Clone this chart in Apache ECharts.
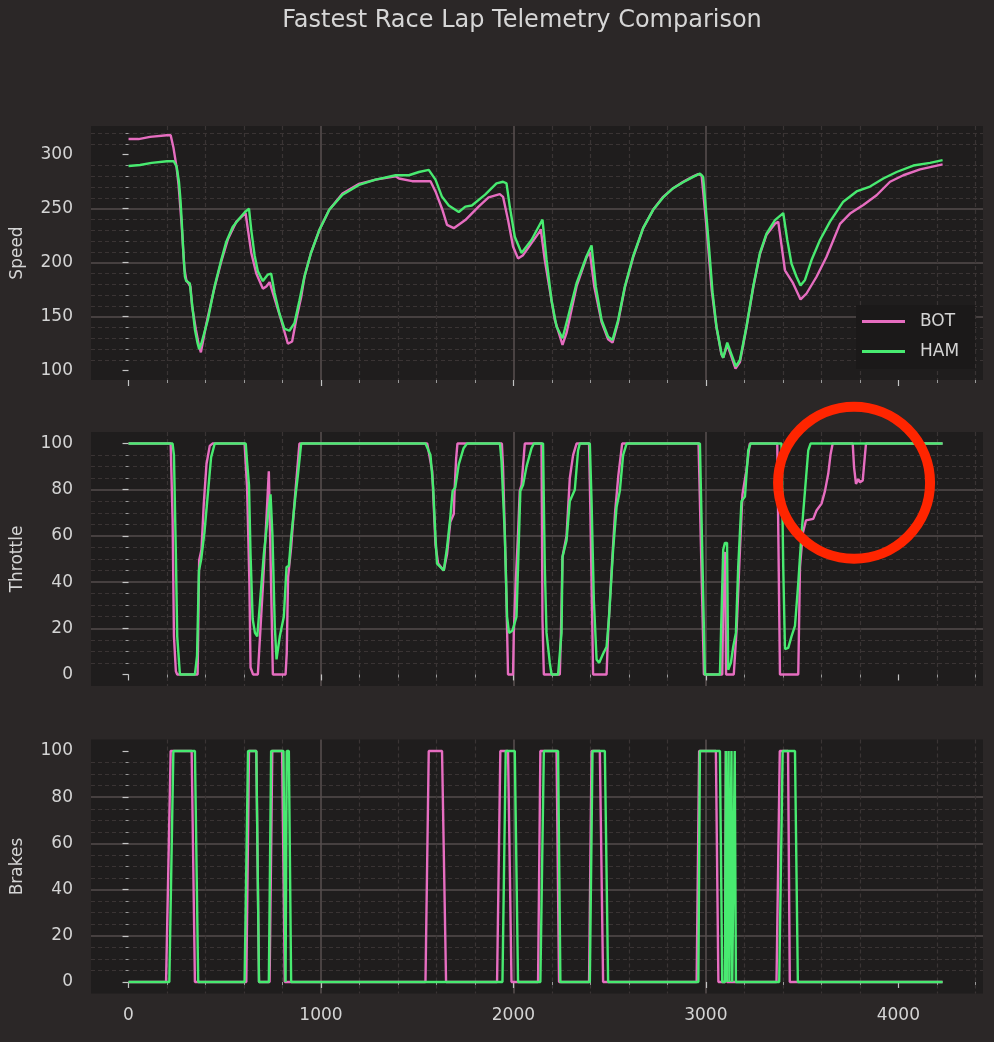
<!DOCTYPE html>
<html><head><meta charset="utf-8">
<script src="https://cdn.jsdelivr.net/npm/echarts@6/dist/echarts.min.js"></script>
<style>html,body{margin:0;padding:0;background:#2b2727;}#c{width:994px;height:1042px;}</style>
</head><body><div id="c"></div>
<script>
const titleText = 'Fastest Race Lap Telemetry Comparison';
const drivers = ['BOT', 'HAM'];
const panelNames = ['Speed', 'Throttle', 'Brakes'];
const xTickValues = [0, 1000, 2000, 3000, 4000];
const speedTickValues = [100, 150, 200, 250, 300];
const pctTickValues = [0, 20, 40, 60, 80, 100];
const circleCenter = [3770, 83];

const botSpeed = [[0,314.5],[52,314.5],[112,316.5],[198,318],[219,318],[233,307],[250,288],[260,272],[276,235],[290,195],[300,184],[322,178],[330,160],[350,138],[365,124],[376,117],[405,144],[440,172],[480,200],[517,222],[560,238],[608,246],[638,209],[664,190],[698,176],[716,178],[733,182],[750,172],[793,147],[828,125],[850,127],[871,147],[897,168],[914,187],[948,209],[991,230],[1043,249],[1112,264],[1198,273],[1284,277],[1388,280],[1405,278],[1474,275.5],[1569,275.5],[1595,266],[1629,250],[1655,235],[1690,232],[1750,239.5],[1819,252],[1871,260.5],[1929,263.5],[1946,261],[1972,239.5],[1998,215],[2024,204],[2050,207],[2137,229],[2142,231],[2163,202.5],[2215,147],[2255,124],[2276,135],[2328,178],[2380,205],[2397,210],[2420,178],[2458,145],[2492,129],[2515,126],[2544,145],[2579,177],[2622,205],[2674,232],[2726,249],[2778,261],[2830,269],[2882,275],[2934,280],[2960,282],[2978,281],[3005,230],[3030,175],[3055,140],[3081,115],[3090,112],[3111,124],[3125,117],[3154,102],[3177,108],[3211,140],[3246,177],[3281,208],[3315,226],[3359,236],[3376,238],[3411,193],[3453,181],[3492,166],[3523,171.5],[3575,187],[3627,205.5],[3697,236],[3749,245.5],[3818,253.5],[3887,262.5],[3957,275],[4026,281],[4113,286.5],[4230,291]];

const hamSpeed = [[0,289.5],[60,290.5],[120,292.5],[200,294],[235,294],[250,289],[262,275],[270,258],[276,240],[285,209],[293,187],[300,183],[318,181],[325,170],[332,159],[345,138],[358,126],[367,120],[378,125],[412,147],[447,178],[481,202],[507,219],[541,233],[576,241],[605,247],[626,250],[638,230],[655,207],[672,192],[698,183],[715,187],[724,189],[741,190],[759,172],[784,153],[810,139],[836,137],[862,144],[888,165],[914,187],[948,209],[991,230],[1043,249],[1112,263],[1198,272],[1284,277],[1388,281],[1457,281],[1509,284],[1560,286],[1595,277],[1629,261],[1664,253],[1716,247],[1750,252],[1784,253],[1853,263],[1912,273.5],[1946,275],[1964,273.5],[1981,252],[2007,224],[2042,209],[2094,221],[2151,240],[2172,203],[2198,165],[2224,141],[2255,130],[2284,150],[2328,181],[2380,206],[2406,216],[2428,178],[2458,147],[2492,131.5],[2515,128.5],[2544,147],[2579,178],[2622,206],[2674,232],[2726,249],[2778,260.5],[2830,269],[2882,274.5],[2934,279.5],[2969,282.5],[2986,279.5],[3012,224],[3035,172],[3055,141],[3081,116],[3090,112],[3111,126],[3125,119],[3156,104],[3177,110],[3211,141],[3246,178],[3281,209],[3315,227],[3359,239.5],[3402,246],[3423,221],[3445,199],[3471,187],[3492,179],[3515,184],[3549,202.5],[3593,221],[3645,238],[3714,256.5],[3783,266],[3853,270.5],[3922,278],[3991,284],[4078,290],[4165,292.5],[4230,295]];

const botThrottle = [[0,100],[219,100],[229,66.7],[236,16.5],[246,1.4],[253,0],[359,0],[367,49.5],[379,54],[391,73.9],[405,91],[422,99],[436,100],[603,100],[616,81],[628,40],[634,3],[647,0],[672,0],[698,38],[716,66.7],[729,88],[735,88],[750,0],[816,0],[822,9],[829,42],[845,55],[862,74],[888,100],[1552,100],[1578,88],[1595,56],[1609,48],[1638,45],[1655,52],[1672,66],[1690,69.5],[1695,81],[1702,93],[1709,100],[1940,100],[1946,89.7],[1960,46.5],[1972,0],[1998,0],[2002,18],[2012,40],[2024,61],[2033,79.5],[2042,82],[2059,100],[2146,100],[2151,23.7],[2158,0],[2241,0],[2247,18],[2255,51],[2276,60],[2293,85],[2310,95],[2328,100],[2393,100],[2400,70],[2414,0],[2484,0],[2492,18],[2510,45],[2528,70],[2545,86],[2565,100],[2962,100],[2990,0],[3085,0],[3093,50],[3100,53],[3105,0],[3145,0],[3160,20],[3175,50],[3190,78],[3210,88],[3228,100],[3371,100],[3385,0],[3480,0],[3489,46.5],[3503,61],[3520,66.7],[3558,67.4],[3575,71],[3601,74],[3619,79.5],[3636,87],[3648,95.4],[3659,100],[3763,100],[3770,89.7],[3780,82.5],[3792,84.6],[3801,83.2],[3815,84],[3821,89.7],[3832,100],[4230,100]];

const hamThrottle = [[0,100],[229,100],[236,95],[246,52],[253,16.5],[267,0],[345,0],[356,8],[366,45],[378,50],[395,62],[412,78],[429,94],[448,100],[609,100],[616,92],[626,82],[634,52],[645,24],[657,18],[669,16.5],[683,31],[703,52],[726,70],[738,78],[748,60],[760,21],[769,6.5],[786,16.5],[807,25],[821,46.5],[833,47],[845,59.5],[867,77],[879,85.5],[897,100],[1543,100],[1569,95],[1583,81],[1595,59.5],[1603,48],[1621,46.5],[1638,45],[1655,55],[1672,68],[1684,79.5],[1698,81],[1716,91],[1741,98],[1759,100],[1930,100],[1938,92.5],[1955,61],[1967,25],[1977,18],[1995,19],[2016,25],[2024,46.5],[2036,79.5],[2050,82],[2068,90],[2094,98],[2106,100],[2154,100],[2158,75],[2163,46.5],[2172,18],[2189,5],[2198,0],[2232,0],[2250,18],[2255,51],[2276,58],[2293,75],[2319,80],[2336,97],[2345,100],[2397,100],[2406,75],[2418,32],[2432,6.5],[2445,5],[2466,9],[2484,12],[2497,25],[2518,54],[2536,72.5],[2553,79.5],[2570,95],[2588,100],[2969,100],[2995,0],[3073,0],[3090,54],[3099,57],[3110,57],[3116,2],[3130,5],[3142,12],[3156,18],[3168,46.5],[3185,75],[3203,77],[3220,97],[3232,100],[3393,100],[3402,46.5],[3411,11],[3428,11.5],[3445,16.5],[3463,21],[3480,39.5],[3497,61],[3515,79.5],[3532,97],[3544,100],[4230,100]];

const botBrake = [[0,0],[195,0],[219,100],[328,100],[345,0],[612,0],[626,100],[664,100],[678,0],[733,0],[747,100],[798,100],[812,0],[1543,0],[1560,100],[1629,100],[1650,0],[1915,0],[1932,100],[1972,100],[1990,0],[2128,0],[2140,100],[2224,100],[2237,0],[2393,0],[2406,100],[2449,100],[2466,0],[2952,0],[2965,100],[3052,100],[3065,0],[3100,0],[3104,100],[3110,0],[3367,0],[3384,100],[3427,100],[3436,0],[4230,0]];

const hamBrake = [[0,0],[212,0],[233,100],[345,100],[362,0],[603,0],[621,100],[664,100],[678,0],[729,0],[741,100],[805,100],[816,0],[822,100],[833,100],[845,0],[1943,0],[1960,100],[2007,100],[2024,0],[2140,0],[2158,100],[2232,100],[2244,0],[2397,0],[2411,100],[2475,100],[2492,0],[2961,0],[2969,100],[3073,100],[3085,0],[3099,0],[3104,100],[3108,0],[3114,0],[3118,100],[3122,0],[3128,0],[3133,100],[3137,0],[3145,0],[3150,100],[3156,0],[3381,0],[3399,100],[3463,100],[3478,0],[4230,0]];

const FONT = '"DejaVu Sans", "Noto Sans", sans-serif';
const PINK = '#e66dc0';
const GREEN = '#48ea70';
const TXT = '#d4d4d4';
const MAJ = '#554d4d';
const MINC = '#3a3434';

const grids = [
  {left: 91, right: 11, top: 126, height: 254},
  {left: 91, right: 11, top: 432, height: 254},
  {left: 91, right: 11, top: 739.5, height: 254}
].map(g => Object.assign(g, {show: true, backgroundColor: '#1f1d1d', borderWidth: 0, containLabel: false}));

function xAxis(gi, showLabels) {
  return {
    type: 'value', gridIndex: gi, min: -195, max: 4440,
    axisLine: {show: false},
    axisTick: {show: true, length: 6, customValues: xTickValues, lineStyle: {color: '#c4c4c4', width: 1.2}},
    axisLabel: {show: showLabels, customValues: xTickValues, color: TXT, fontSize: 17, fontFamily: FONT, margin: 14,
      formatter: v => String(v)},
    splitLine: {show: true, showMinLine: false, showMaxLine: false, lineStyle: {color: MAJ, width: 1.6}},
    minorTick: {show: true, splitNumber: 5, length: 3, lineStyle: {color: '#9a9a9a', width: 1}},
    minorSplitLine: {show: true, lineStyle: {color: MINC, width: 1.2, type: [4, 3]}}
  };
}
function yAxis(gi, name, min, max, ticks, minorSplit) {
  return {
    type: 'value', gridIndex: gi, min: min, max: max,
    name: name, nameLocation: 'middle', nameGap: 65, nameRotate: 90,
    nameTextStyle: {color: TXT, fontSize: 17, fontFamily: FONT},
    axisLine: {show: false},
    axisTick: {show: true, length: 6, customValues: ticks, lineStyle: {color: '#c4c4c4', width: 1.2}},
    axisLabel: {show: true, customValues: ticks, color: TXT, fontSize: 17, fontFamily: FONT, margin: 18,
      formatter: v => String(v)},
    splitLine: {show: true, showMinLine: false, showMaxLine: false, lineStyle: {color: MAJ, width: 1.6}},
    minorTick: {show: true, splitNumber: minorSplit, length: 3, lineStyle: {color: '#9a9a9a', width: 1}},
    minorSplitLine: {show: true, lineStyle: {color: MINC, width: 1.2, type: [4, 3]}}
  };
}
function line(name, gi, data, color, z) {
  return {
    type: 'line', name: name, xAxisIndex: gi, yAxisIndex: gi, data: data,
    showSymbol: false, symbol: 'none', smooth: false, z: z,
    lineStyle: {color: color, width: 2.4}, itemStyle: {color: color},
    emphasis: {disabled: true}, animation: false
  };
}

const chart = echarts.init(document.getElementById('c'), null, {renderer: 'canvas'});
chart.setOption({
  backgroundColor: '#2b2727',
  animation: false,
  grid: grids,
  xAxis: [xAxis(0, false), xAxis(1, false), xAxis(2, true)],
  yAxis: [
    yAxis(0, panelNames[0], 91.4, 326.6, speedTickValues, 5),
    yAxis(1, panelNames[1], -5, 105, pctTickValues, 4),
    yAxis(2, panelNames[2], -5, 105, pctTickValues, 4)
  ],
  legend: {
    data: drivers, orient: 'vertical', left: 856, top: 305,
    icon: 'rect', itemWidth: 43, itemHeight: 3, itemGap: 13,
    backgroundColor: '#1b1919', borderWidth: 0, padding: [8, 16, 9, 6],
    textStyle: {color: TXT, fontSize: 17, fontFamily: FONT, padding: [0, 0, 0, 10]}
  },
  series: [
    line(drivers[0], 0, botSpeed, PINK, 2), line(drivers[1], 0, hamSpeed, GREEN, 3),
    line(drivers[0], 1, botThrottle, PINK, 2), line(drivers[1], 1, hamThrottle, GREEN, 3),
    line(drivers[0], 2, botBrake, PINK, 2), line(drivers[1], 2, hamBrake, GREEN, 3)
  ]
});

const cp = chart.convertToPixel({gridIndex: 1}, circleCenter);
chart.setOption({
  graphic: [
    {type: 'text', x: 522, y: 20.5, z: 100,
      style: {text: titleText, fill: '#d6d6d6', font: '24px ' + FONT,
        align: 'center', verticalAlign: 'middle', textAlign: 'center', textVerticalAlign: 'middle'}},
    {type: 'circle', z: 100, shape: {cx: cp[0], cy: cp[1], r: 76},
      style: {fill: 'none', stroke: '#ff2500', lineWidth: 10}}
  ]
});
</script>
</body></html>
